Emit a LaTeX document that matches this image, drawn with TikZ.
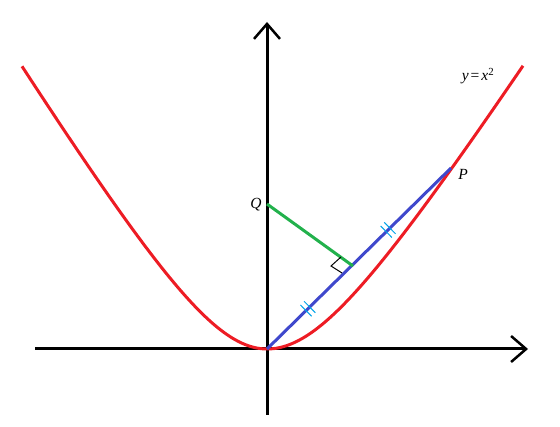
\documentclass[tikz,border=0pt]{standalone}
\usepackage{fontspec}
\setmainfont{Liberation Serif}
\usetikzlibrary{calc,arrows.meta}
\definecolor{pred}{HTML}{ED1C24}
\definecolor{pblue}{HTML}{3F48CC}
\definecolor{pgreen}{HTML}{22B14C}
\definecolor{pcyan}{HTML}{00A2E8}
\tikzset{
  axis/.style={line width=3pt, -{Straight Barb[length=15pt,width=26pt,line width=2.5pt]}},
  curve/.style={pred, line width=3pt},
  segblue/.style={pblue, line width=3pt},
  seggreen/.style={pgreen, line width=3pt},
  tickmark/.style={pcyan, line width=1pt},
  rightmark/.style={black, line width=1pt},
  lab/.style={font=\fontsize{15.5}{17}\selectfont\itshape, inner sep=0pt}
}
\begin{document}
\begin{tikzpicture}[x=1pt,y=-1pt]
\useasboundingbox (0,0) rectangle (560,427);
% points
\coordinate (O) at (267,349);
\coordinate (P) at (451,168);
\coordinate (Q) at (267,204);
\coordinate (F) at (353,266);
\coordinate (xl) at (35,349);
\coordinate (xr) at (528,349);
\coordinate (yb) at (267,415);
\coordinate (yt) at (267,22);
% axes
\draw[axis] (xl) -- (xr);
\draw[axis] (yb) -- (yt);
% curve
\draw[curve] plot[domain=-245:0, samples=80, smooth] ({\x+267},{349-140*(sqrt(1+(\x/86)*(\x/86))-1)})
  -- plot[domain=0:256, samples=80, smooth] ({\x+267},{349-136.4*(sqrt(1+(\x/88)*(\x/88))-1)});
% segments
\draw[segblue] (O) -- (P);
\draw[seggreen] (Q) -- (F);
% right angle mark
\draw[rightmark] (341,257) -- (331,266) -- (342,273);
% tick marks
\coordinate (T1a) at ($(O)!0.212!(P)$);
\coordinate (T1b) at ($(O)!0.232!(P)$);
\coordinate (T2a) at ($(O)!0.648!(P)$);
\coordinate (T2b) at ($(O)!0.668!(P)$);
\foreach \t in {T1a,T1b,T2a,T2b}{
  \draw[tickmark] ($(\t)!8pt!90:(P)$) -- ($(\t)!8pt!-90:(P)$);
}
% labels
\node[lab] (lq) at (256,205) {Q};
\node[lab] (lp) at (463,174) {P};
\node[lab] (leq) at (478,76) {y\kern2pt\upshape{=}\kern2pt\itshape x\textsuperscript{\upshape 2}};
\end{tikzpicture}
\end{document}
